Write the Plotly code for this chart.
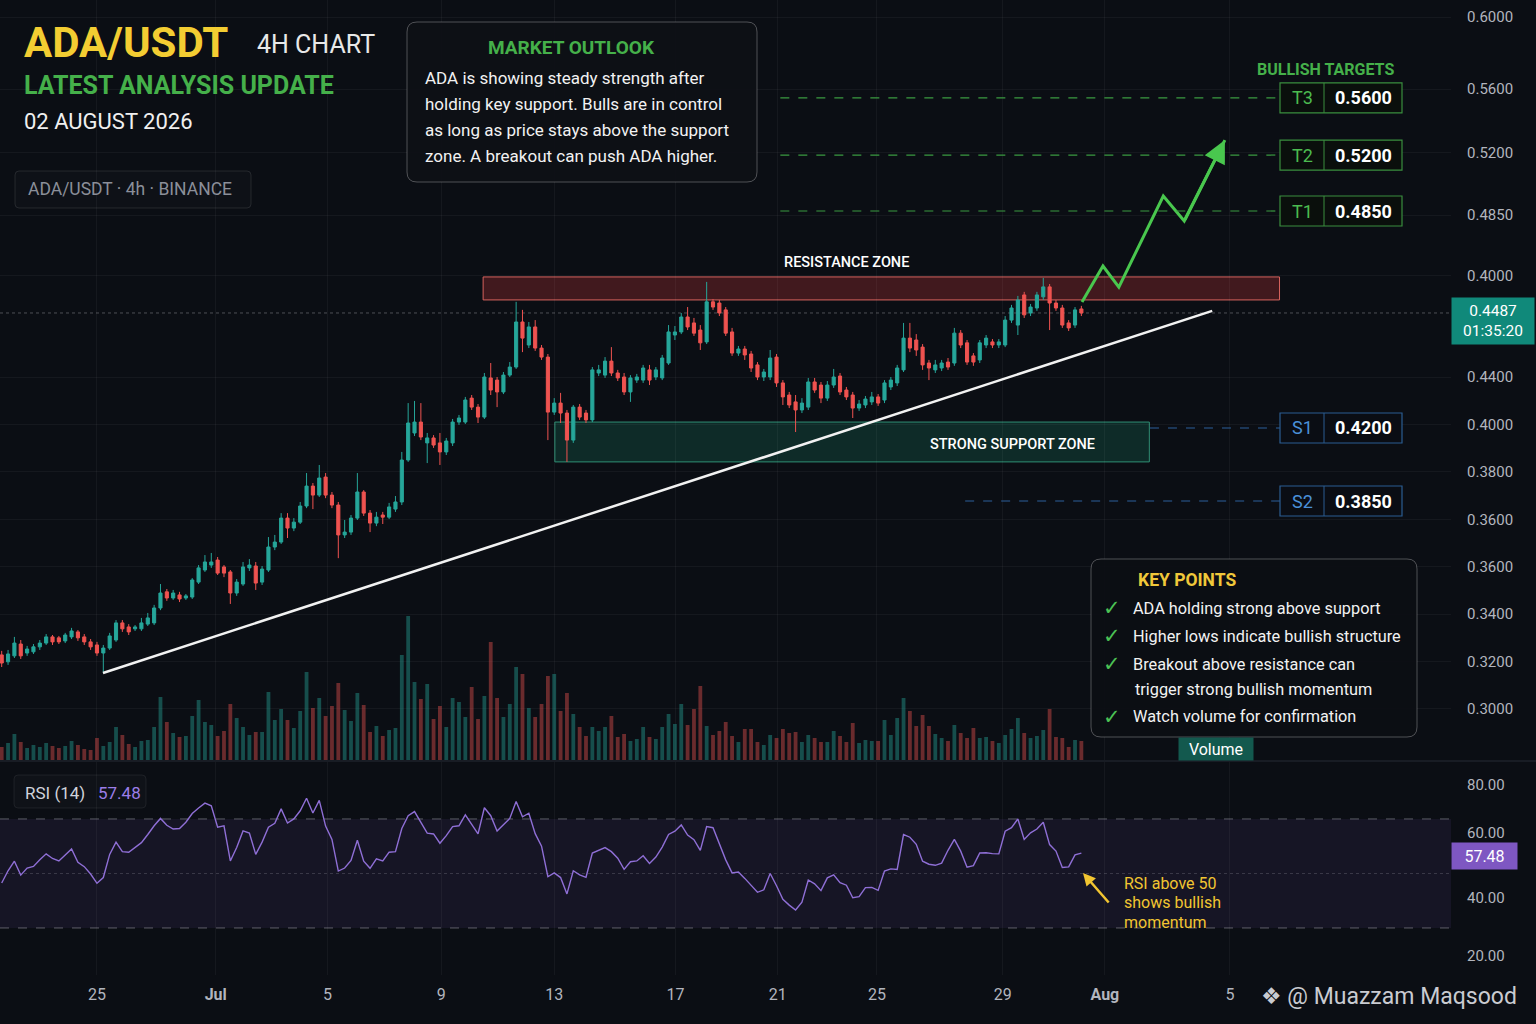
import plotly.graph_objects as go

# ---------------- DATA ----------------
opens = [0.3228, 0.3199, 0.3224, 0.3274, 0.3236, 0.3241, 0.3262, 0.3278, 0.3304, 0.3300,
         0.3287, 0.3304, 0.3325, 0.3304, 0.3283, 0.3270, 0.3236, 0.3257, 0.3291, 0.3363,
         0.3346, 0.3338, 0.3338, 0.3358, 0.3363, 0.3426, 0.3494, 0.3468, 0.3481, 0.3468,
         0.3472, 0.3535, 0.3586, 0.3607, 0.3628, 0.3599, 0.3578, 0.3489, 0.3527, 0.3595,
         0.3603, 0.3535, 0.3586, 0.3683, 0.3704, 0.3805, 0.3763, 0.3788, 0.3856, 0.3940,
         0.3902, 0.3978, 0.3902, 0.3860, 0.3734, 0.3746, 0.3805, 0.3915, 0.3826, 0.3784,
         0.3818, 0.3809, 0.3843, 0.3873, 0.4050, 0.4164, 0.4210, 0.4122, 0.4143, 0.4122,
         0.4084, 0.4122, 0.4210, 0.4210, 0.4311, 0.4273, 0.4231, 0.4396, 0.4387, 0.4337,
         0.4408, 0.4442, 0.4632, 0.4535, 0.4611, 0.4522, 0.4484, 0.4252, 0.4290, 0.4248,
         0.4134, 0.4273, 0.4248, 0.4219, 0.4417, 0.4408, 0.4467, 0.4417, 0.4400, 0.4337,
         0.4387, 0.4387, 0.4430, 0.4400, 0.4396, 0.4459, 0.4577, 0.4590, 0.4653, 0.4628,
         0.4598, 0.4548, 0.4717, 0.4712, 0.4683, 0.4590, 0.4501, 0.4518, 0.4497, 0.4451,
         0.4400, 0.4400, 0.4484, 0.4375, 0.4324, 0.4295, 0.4261, 0.4273, 0.4379, 0.4366,
         0.4311, 0.4366, 0.4404, 0.4345, 0.4324, 0.4269, 0.4282, 0.4295, 0.4316, 0.4303,
         0.4358, 0.4375, 0.4430, 0.4564, 0.4556, 0.4526, 0.4459, 0.4430, 0.4438, 0.4463,
         0.4459, 0.4585, 0.4544, 0.4489, 0.4472, 0.4535, 0.4548, 0.4535, 0.4535, 0.4640,
         0.4619, 0.4746, 0.4670, 0.4691, 0.4738, 0.4780, 0.4712, 0.4691, 0.4628, 0.4619,
         0.4687]
highs = [0.3245, 0.3249, 0.3304, 0.3291, 0.3266, 0.3274, 0.3291, 0.3316, 0.3312, 0.3308,
         0.3321, 0.3342, 0.3333, 0.3316, 0.3295, 0.3283, 0.3270, 0.3321, 0.3375, 0.3375,
         0.3358, 0.3354, 0.3384, 0.3405, 0.3439, 0.3527, 0.3506, 0.3502, 0.3494, 0.3485,
         0.3552, 0.3607, 0.3649, 0.3658, 0.3641, 0.3607, 0.3586, 0.3548, 0.3620, 0.3632,
         0.3620, 0.3603, 0.3725, 0.3734, 0.3826, 0.3826, 0.3805, 0.3873, 0.3995, 0.3953,
         0.4029, 0.3995, 0.3915, 0.3873, 0.3797, 0.3818, 0.3995, 0.3923, 0.3839, 0.3831,
         0.3831, 0.3869, 0.3898, 0.4084, 0.4290, 0.4299, 0.4290, 0.4164, 0.4155, 0.4164,
         0.4143, 0.4223, 0.4240, 0.4316, 0.4324, 0.4286, 0.4417, 0.4459, 0.4400, 0.4421,
         0.4463, 0.4717, 0.4683, 0.4632, 0.4640, 0.4535, 0.4497, 0.4311, 0.4333, 0.4261,
         0.4282, 0.4286, 0.4261, 0.4442, 0.4451, 0.4484, 0.4526, 0.4430, 0.4417, 0.4408,
         0.4413, 0.4451, 0.4451, 0.4442, 0.4493, 0.4619, 0.4615, 0.4670, 0.4695, 0.4649,
         0.4619, 0.4801, 0.4729, 0.4725, 0.4695, 0.4607, 0.4531, 0.4531, 0.4510, 0.4463,
         0.4434, 0.4514, 0.4497, 0.4387, 0.4337, 0.4324, 0.4311, 0.4396, 0.4396, 0.4379,
         0.4383, 0.4434, 0.4417, 0.4358, 0.4337, 0.4303, 0.4320, 0.4337, 0.4328, 0.4387,
         0.4400, 0.4451, 0.4628, 0.4628, 0.4581, 0.4539, 0.4472, 0.4472, 0.4472, 0.4480,
         0.4607, 0.4598, 0.4556, 0.4501, 0.4556, 0.4577, 0.4560, 0.4560, 0.4657, 0.4704,
         0.4742, 0.4759, 0.4708, 0.4759, 0.4818, 0.4792, 0.4725, 0.4704, 0.4640, 0.4695,
         0.4700]
lows = [0.3177, 0.3186, 0.3215, 0.3211, 0.3224, 0.3232, 0.3249, 0.3270, 0.3270, 0.3274,
        0.3278, 0.3295, 0.3287, 0.3270, 0.3249, 0.3224, 0.3152, 0.3249, 0.3283, 0.3325,
        0.3312, 0.3329, 0.3329, 0.3350, 0.3354, 0.3417, 0.3456, 0.3460, 0.3451, 0.3460,
        0.3464, 0.3527, 0.3578, 0.3595, 0.3565, 0.3556, 0.3443, 0.3477, 0.3519, 0.3582,
        0.3502, 0.3523, 0.3578, 0.3670, 0.3696, 0.3721, 0.3750, 0.3780, 0.3847, 0.3843,
        0.3894, 0.3889, 0.3847, 0.3636, 0.3721, 0.3734, 0.3797, 0.3814, 0.3746, 0.3771,
        0.3780, 0.3801, 0.3831, 0.3860, 0.4042, 0.4151, 0.4134, 0.4037, 0.4101, 0.4029,
        0.4071, 0.4109, 0.4198, 0.4202, 0.4261, 0.4206, 0.4223, 0.4324, 0.4273, 0.4328,
        0.4400, 0.4434, 0.4505, 0.4522, 0.4510, 0.4472, 0.4134, 0.4240, 0.4206, 0.4042,
        0.4122, 0.4219, 0.4206, 0.4210, 0.4404, 0.4396, 0.4404, 0.4383, 0.4324, 0.4295,
        0.4375, 0.4375, 0.4366, 0.4387, 0.4387, 0.4451, 0.4556, 0.4581, 0.4598, 0.4573,
        0.4514, 0.4539, 0.4683, 0.4657, 0.4573, 0.4489, 0.4489, 0.4472, 0.4421, 0.4387,
        0.4383, 0.4387, 0.4358, 0.4282, 0.4269, 0.4168, 0.4248, 0.4261, 0.4333, 0.4290,
        0.4299, 0.4354, 0.4324, 0.4303, 0.4227, 0.4257, 0.4269, 0.4282, 0.4278, 0.4290,
        0.4345, 0.4362, 0.4421, 0.4505, 0.4489, 0.4430, 0.4387, 0.4417, 0.4425, 0.4430,
        0.4447, 0.4522, 0.4451, 0.4447, 0.4459, 0.4522, 0.4522, 0.4522, 0.4526, 0.4628,
        0.4577, 0.4649, 0.4657, 0.4679, 0.4725, 0.4598, 0.4679, 0.4607, 0.4594, 0.4607,
        0.4657]
closes = [0.3194, 0.3232, 0.3278, 0.3224, 0.3253, 0.3262, 0.3278, 0.3304, 0.3283, 0.3283,
          0.3312, 0.3329, 0.3300, 0.3283, 0.3262, 0.3236, 0.3257, 0.3308, 0.3363, 0.3338,
          0.3325, 0.3346, 0.3363, 0.3384, 0.3426, 0.3489, 0.3468, 0.3489, 0.3464, 0.3477,
          0.3544, 0.3595, 0.3620, 0.3620, 0.3573, 0.3573, 0.3489, 0.3535, 0.3599, 0.3607,
          0.3531, 0.3590, 0.3683, 0.3704, 0.3805, 0.3763, 0.3788, 0.3856, 0.3940, 0.3902,
          0.3974, 0.3902, 0.3860, 0.3734, 0.3746, 0.3805, 0.3915, 0.3826, 0.3784, 0.3809,
          0.3809, 0.3852, 0.3873, 0.4050, 0.4206, 0.4210, 0.4147, 0.4143, 0.4113, 0.4084,
          0.4130, 0.4210, 0.4227, 0.4303, 0.4273, 0.4231, 0.4400, 0.4345, 0.4337, 0.4408,
          0.4442, 0.4632, 0.4564, 0.4611, 0.4522, 0.4484, 0.4252, 0.4290, 0.4248, 0.4134,
          0.4273, 0.4231, 0.4219, 0.4430, 0.4430, 0.4467, 0.4417, 0.4396, 0.4337, 0.4396,
          0.4400, 0.4438, 0.4387, 0.4430, 0.4480, 0.4590, 0.4590, 0.4653, 0.4611, 0.4585,
          0.4544, 0.4717, 0.4695, 0.4670, 0.4585, 0.4501, 0.4518, 0.4493, 0.4438, 0.4400,
          0.4421, 0.4480, 0.4375, 0.4316, 0.4282, 0.4261, 0.4290, 0.4379, 0.4345, 0.4311,
          0.4366, 0.4400, 0.4337, 0.4316, 0.4269, 0.4286, 0.4307, 0.4316, 0.4290, 0.4375,
          0.4387, 0.4438, 0.4564, 0.4522, 0.4514, 0.4451, 0.4438, 0.4451, 0.4459, 0.4442,
          0.4585, 0.4535, 0.4463, 0.4463, 0.4544, 0.4564, 0.4535, 0.4548, 0.4640, 0.4691,
          0.4725, 0.4662, 0.4695, 0.4746, 0.4780, 0.4712, 0.4691, 0.4619, 0.4607, 0.4683,
          0.4670]
volumes = [1.3, 1.7, 2.6, 1.8, 1.2, 1.5, 1.3, 1.7, 1.4, 1.2,
           1.4, 1.9, 1.5, 1.1, 1.0, 2.2, 1.4, 1.8, 3.3, 2.5,
           1.6, 1.3, 1.9, 2.0, 3.3, 6.3, 3.8, 2.7, 2.3, 2.4,
           4.4, 6.0, 3.8, 3.5, 2.4, 2.9, 5.6, 4.2, 3.3, 2.5,
           2.8, 2.8, 6.8, 4.0, 5.1, 4.0, 3.2, 4.9, 8.8, 5.2,
           6.2, 4.4, 5.4, 7.7, 5.0, 3.9, 6.7, 5.5, 2.8, 3.4,
           2.4, 3.0, 3.2, 10.5, 14.4, 7.8, 6.1,
           7.6, 4.1, 5.4, 3.3, 6.2, 5.8, 4.3, 7.3, 4.1, 6.4,
           11.8, 6.2, 4.3, 5.6, 9.3, 8.6, 5.2, 4.3, 5.6, 8.4,
           8.6, 4.9, 6.7, 4.6, 3.3, 2.4, 3.3, 2.9, 3.3, 4.4,
           2.3, 2.6, 1.9, 2.1, 3.3, 2.3, 2.1, 3.3, 4.6, 3.6,
           5.6, 3.5, 5.1, 7.4, 3.4, 2.5, 2.9, 3.8, 2.4, 1.8,
           3.1,
           3.1, 1.8, 1.5, 2.5, 2.2, 3.1, 2.7, 2.8, 1.8, 2.5,
           2.2, 1.8, 1.8, 2.9, 2.4, 1.8, 3.7, 1.7, 2.0, 1.9,
           1.9, 4.0, 2.5, 4.2, 6.2, 4.9, 3.4, 4.5, 3.4, 2.6,
           2.2, 1.9, 3.5, 2.7, 2.2, 3.2, 2.2, 2.3, 1.9, 1.7,
           2.5, 3.1, 4.2, 2.7, 2.2, 2.4, 3.0, 5.1, 2.3, 2.2,
           1.3, 2.0, 1.9]
rsi_values = [46.5, 51, 54.5, 49.4, 52, 52.6, 55, 57.2, 55.5, 54.6,
              56.8, 59.0, 54.1, 52.5, 49.8, 46.4, 48.5, 57, 61.5, 58,
              57.8, 59.5, 61.3, 64.3, 67.5, 70.2, 67.7, 66.3, 66.5, 68.8,
              72, 74, 75.8, 74.8, 67, 67.5, 54.6, 59.5, 65.6, 64.8,
              57, 61.5, 67, 68.4, 73.7, 68.5, 70, 73, 77.6, 72.2,
              76.8, 67.4, 62.5, 50.9, 52, 54.8, 62.2, 54.5, 51.9, 55.4,
              54.6, 57.8, 58, 66.5, 71.2, 72.7, 68.6, 64.8, 64.5, 61.1,
              63.9, 67.2, 67.5, 71.5, 68, 64.5, 74.1, 71.2, 65.6, 68,
              70.2, 76.4, 70.8, 72.1, 64.6, 60, 48.8, 50.2,
              48.5, 42.5, 51, 49.5, 48.6, 57.5, 58.5, 59.5, 58, 55.6,
              51.5, 54.3, 54.6, 56.5, 53.7, 56, 59.7, 64.3, 65.5, 67.8,
              64.1, 62.4, 58.5, 67.2, 66.8, 61, 55, 50.2, 50.5, 48.2,
              45.5, 43.1, 44, 50, 45.5, 40.5, 38.4, 36.6, 39.5, 47.6,
              46.2, 43.7, 48.4, 49.5, 46.6, 45.7, 41.1, 41.5, 44.8, 44.9,
              43.8, 50.9, 51.7, 51.5, 64.3, 63.3, 60.7, 54.5, 53.4, 53,
              53.8, 58.5, 62.5, 58.2, 52.3, 52.9, 57.5, 57.6, 57.3, 57.2,
              65.5, 66.8, 70, 62.5, 64.9, 66.3, 68.8, 60.6, 58.2, 52.2,
              52.4, 56.8, 57.48]

bar_index = list(range(len(closes)))

date_tick_pos = [15.0, 33.7, 51.3, 69.2, 87.0, 106.1, 122.2, 137.8, 157.6, 173.7, 193.4]
date_tick_text = ["25", "<b>Jul</b>", "5", "9", "13", "17", "21", "25", "29", "<b>Aug</b>", "5"]

price_tick_vals = [0.5918, 0.5614, 0.5345, 0.5083, 0.4826, 0.44, 0.42, 0.40, 0.38, 0.36, 0.34, 0.32, 0.30]
price_tick_text = ["0.6000", "0.5600", "0.5200", "0.4850", "0.4000", "0.4400", "0.4000",
                   "0.3800", "0.3600", "0.3600", "0.3400", "0.3200", "0.3000"]
rsi_tick_vals = [82.4, 64.9, 41.0, 19.7]
rsi_tick_text = ["80.00", "60.00", "40.00", "20.00"]

# analysis drawings (bar index, price)
trend_x = [15.95, 190.6]
trend_y = [0.3152, 0.4679]
proj_x = [170.1, 173.4, 175.9, 182.9, 186.2, 192.6]
proj_y = [0.4716, 0.4868, 0.4779, 0.5163, 0.5058, 0.5399]
resistance_x = [75.8, 201.2]
resistance_y = [0.4725, 0.4822]
support_x = [87.1, 180.7]
support_y = [0.4042, 0.4210]
target_names = ["T3", "T2", "T1"]
target_labels = ["0.5600", "0.5200", "0.4850"]
target_levels = [0.5577, 0.5336, 0.5100]
target_line_start = 122.6
support_names = ["S1", "S2"]
support_labels = ["0.4200", "0.3850"]
support_levels = [0.4185, 0.3877]
support_line_start = [180.8, 151.7]
level_line_end = 201.3
current_price_label = "0.4487"
countdown_label = "01:35:20"

outlook_lines = ["ADA is showing steady strength after",
                 "holding key support. Bulls are in control",
                 "as long as price stays above the support",
                 "zone. A breakout can push ADA higher."]
key_points = [("✓", "ADA holding strong above support"),
              ("✓", "Higher lows indicate bullish structure"),
              ("✓", "Breakout above resistance can"),
              ("", "trigger strong bullish momentum"),
              ("✓", "Watch volume for confirmation")]
rsi_note = ["RSI above 50", "shows bullish", "momentum"]

# ---------------- STYLE ----------------
FONT = "Roboto, 'DejaVu Sans', sans-serif"
BG = "#0b0e14"
GRID = "rgba(255,255,255,0.045)"
UP = "#26a69a"
DN = "#ef5350"
VOL_UP = "rgba(38,166,154,0.42)"
VOL_DN = "rgba(239,83,80,0.42)"
YELLOW = "#f3cd32"
GREEN_TXT = "#45b04a"
ARROW_GREEN = "#49c74e"
PURPLE = "#8f6fd6"
AXIS_TXT = "#b2b5be"

W, H = 1536, 1024
PW, PH = 1451, 975          # plot area size (px)
PRICE_BOTTOM = 760          # px where price pane ends
RSI_TOP = 762


def px_x(x):
    return x / PW


def px_y(y):
    return (PH - y) / PH


fig = go.Figure()

vol_colors = [VOL_UP if c >= o else VOL_DN for o, c in zip(opens, closes)]
fig.add_trace(go.Bar(x=bar_index, y=volumes, marker=dict(color=vol_colors, line=dict(width=0)),
                     width=0.6, xaxis="x2", yaxis="y3", hoverinfo="skip"))
fig.add_trace(go.Candlestick(x=bar_index, open=opens, high=highs, low=lows, close=closes,
                             xaxis="x2", yaxis="y", whiskerwidth=0,
                             increasing=dict(line=dict(color=UP, width=1), fillcolor=UP),
                             decreasing=dict(line=dict(color=DN, width=1), fillcolor=DN)))
fig.add_trace(go.Scatter(x=trend_x, y=trend_y, mode="lines", line=dict(color="#f2f2f2", width=2.5),
                         xaxis="x2", yaxis="y", hoverinfo="skip"))
fig.add_trace(go.Scatter(x=proj_x, y=proj_y, mode="lines", line=dict(color=ARROW_GREEN, width=3),
                         xaxis="x2", yaxis="y", hoverinfo="skip"))
fig.add_trace(go.Scatter(x=bar_index, y=rsi_values, mode="lines", line=dict(color=PURPLE, width=1.4),
                         xaxis="x", yaxis="y2", hoverinfo="skip"))

shapes = []
ann = []


def rrect(x0, y0, x1, y1, r, fill, line, width=1):
    X, Y = px_x, px_y
    path = (f"M {X(x0 + r)},{Y(y0)} L {X(x1 - r)},{Y(y0)} Q {X(x1)},{Y(y0)} {X(x1)},{Y(y0 + r)} "
            f"L {X(x1)},{Y(y1 - r)} Q {X(x1)},{Y(y1)} {X(x1 - r)},{Y(y1)} "
            f"L {X(x0 + r)},{Y(y1)} Q {X(x0)},{Y(y1)} {X(x0)},{Y(y1 - r)} "
            f"L {X(x0)},{Y(y0 + r)} Q {X(x0)},{Y(y0)} {X(x0 + r)},{Y(y0)} Z")
    shapes.append(dict(type="path", xref="paper", yref="paper", path=path, fillcolor=fill,
                       line=dict(color=line, width=width), layer="above"))


def text(x, y, t, size, color, anchor="left", weight="normal"):
    ann.append(dict(x=px_x(x), y=px_y(y), xref="paper", yref="paper", text=t, showarrow=False,
                    xanchor=anchor, yanchor="middle",
                    font=dict(family=FONT, size=size, color=color, weight=weight)))


# zones
shapes.append(dict(type="rect", xref="x2", yref="y", x0=resistance_x[0], x1=resistance_x[1],
                   y0=resistance_y[0], y1=resistance_y[1], fillcolor="rgba(140,40,45,0.42)",
                   line=dict(color="#d8635e", width=1), layer="below"))
shapes.append(dict(type="rect", xref="x2", yref="y", x0=support_x[0], x1=support_x[1],
                   y0=support_y[0], y1=support_y[1], fillcolor="rgba(25,120,95,0.28)",
                   line=dict(color="#2f8f74", width=1), layer="below"))
# current price dotted line
shapes.append(dict(type="line", xref="paper", yref="y", x0=0, x1=1, y0=closes[-1], y1=closes[-1],
                   line=dict(color="rgba(200,200,210,0.35)", width=1, dash="dot"), layer="below"))
# RSI band & levels
shapes.append(dict(type="rect", xref="paper", yref="y2", x0=0, x1=1, y0=30, y1=70,
                   fillcolor="rgba(126,87,194,0.10)", line=dict(width=0), layer="below"))
for lvl, dash, col in [(70, "dash", "rgba(170,170,180,0.5)"), (30, "dash", "rgba(170,170,180,0.5)"),
                       (50, "dot", "rgba(170,170,180,0.25)")]:
    shapes.append(dict(type="line", xref="paper", yref="y2", x0=0, x1=1, y0=lvl, y1=lvl,
                       line=dict(color=col, width=1, dash=dash), layer="below"))
# pane separator
shapes.append(dict(type="line", xref="paper", yref="paper", x0=0, x1=W / PW, y0=px_y(761), y1=px_y(761),
                   line=dict(color="#262a35", width=1)))

# target & support levels
for name, lab, lvl in zip(target_names, target_labels, target_levels):
    shapes.append(dict(type="line", xref="x2", yref="y", x0=target_line_start, x1=level_line_end,
                       y0=lvl, y1=lvl, line=dict(color="#3b9a40", width=1.2, dash="dash")))
    shapes.append(dict(type="rect", xref="paper", yref="y", x0=px_x(1280), x1=px_x(1402),
                       ysizemode="pixel", yanchor=lvl, y0=-15, y1=15,
                       fillcolor="#0a0f0c", line=dict(color="#3a8e3e", width=1.2)))
    shapes.append(dict(type="line", xref="paper", yref="y", x0=px_x(1324), x1=px_x(1324),
                       ysizemode="pixel", yanchor=lvl, y0=-15, y1=15,
                       line=dict(color="#3a8e3e", width=1)))
    ann.append(dict(x=px_x(1302), y=lvl, xref="paper", yref="y", text=name, showarrow=False,
                    xanchor="center", yanchor="middle",
                    font=dict(family=FONT, size=18, color="#4cbb50")))
    ann.append(dict(x=px_x(1363), y=lvl, xref="paper", yref="y", text=lab, showarrow=False,
                    xanchor="center", yanchor="middle",
                    font=dict(family=FONT, size=18, color="white", weight="bold")))
for name, lab, lvl, x0 in zip(support_names, support_labels, support_levels, support_line_start):
    shapes.append(dict(type="line", xref="x2", yref="y", x0=x0, x1=level_line_end,
                       y0=lvl, y1=lvl, line=dict(color="#2c5f99", width=1.2, dash="dash")))
    shapes.append(dict(type="rect", xref="paper", yref="y", x0=px_x(1280), x1=px_x(1402),
                       ysizemode="pixel", yanchor=lvl, y0=-15, y1=15,
                       fillcolor="#0a0d14", line=dict(color="#2b5d91", width=1.2)))
    shapes.append(dict(type="line", xref="paper", yref="y", x0=px_x(1324), x1=px_x(1324),
                       ysizemode="pixel", yanchor=lvl, y0=-15, y1=15,
                       line=dict(color="#2b5d91", width=1)))
    ann.append(dict(x=px_x(1302), y=lvl, xref="paper", yref="y", text=name, showarrow=False,
                    xanchor="center", yanchor="middle",
                    font=dict(family=FONT, size=18, color="#4a90d9")))
    ann.append(dict(x=px_x(1363), y=lvl, xref="paper", yref="y", text=lab, showarrow=False,
                    xanchor="center", yanchor="middle",
                    font=dict(family=FONT, size=18, color="white", weight="bold")))

# boxes
rrect(15, 171, 251, 208, 4, "rgba(255,255,255,0.015)", "rgba(255,255,255,0.10)")
rrect(407, 22, 757, 182, 10, "rgba(14,16,22,0.92)", "rgba(255,255,255,0.28)")
rrect(1091, 559, 1417, 737, 10, "rgba(12,14,20,0.92)", "rgba(255,255,255,0.28)")
rrect(14, 775, 146, 808, 4, "rgba(255,255,255,0.02)", "rgba(255,255,255,0.07)")

# header
text(22, 42, "<b>ADA/USDT</b>", 42, YELLOW)
text(255, 44, "4H CHART", 25, "#e8e8e8")
text(22, 85, "<b>LATEST ANALYSIS UPDATE</b>", 25, GREEN_TXT)
text(22, 122, "02 AUGUST 2026", 22, "#f0f0f0")
text(26, 189, "ADA/USDT · 4h · BINANCE", 17.5, "#8b8f99")

# market outlook
text(571, 47, "<b>MARKET OUTLOOK</b>", 19, GREEN_TXT, anchor="center")
for i, line in enumerate(outlook_lines):
    text(423, 78 + 26 * i, line, 17, "#f2f2f2")

# key points
text(1136, 580, "<b>KEY POINTS</b>", 17.5, "#f0c83a")
for i, (mark, line) in enumerate(key_points):
    yy = [608, 636, 664, 690, 717][i]
    if mark:
        text(1112, yy, f"<b>{mark}</b>", 21, "#4cc255", anchor="center", weight="bold")
    text(1131 if mark else 1133, yy, line, 16.3, "#f2f2f2")

# zone labels
text(847, 263, "RESISTANCE ZONE", 14.5, "white", anchor="center", weight=500)
text(1012, 444, "STRONG SUPPORT ZONE", 14.5, "white", anchor="center", weight=500)
text(1325, 69, "<b>BULLISH TARGETS</b>", 16, GREEN_TXT, anchor="center")

# projection arrow head
ann.append(dict(x=proj_x[-1], y=proj_y[-1], xref="x2", yref="y", ax=proj_x[-2], ay=proj_y[-2],
                axref="x2", ayref="y", text="", showarrow=True, arrowhead=2, arrowsize=1.5,
                arrowwidth=3, arrowcolor=ARROW_GREEN))

# volume tag
ann.append(dict(x=px_x(1216), y=px_y(749), xref="paper", yref="paper", text="Volume", showarrow=False,
                xanchor="center", yanchor="middle",
                bgcolor="#13594e", width=70, height=18, borderpad=2,
                font=dict(family=FONT, size=16, color="white")))

# RSI label
text(23, 793, "RSI (14)", 17, "#d1d4dc")
text(96, 793, f"{rsi_values[-1]:.2f}", 17, "#9c7ee8")
for i, line in enumerate(rsi_note):
    text(1122, 883 + 19.5 * i, line, 16, "#f2c531")
ann.append(dict(x=px_x(1083), y=px_y(873), xref="paper", yref="paper", ax=27, ay=31, text="",
                showarrow=True, arrowhead=2, arrowsize=1, arrowwidth=2.5, arrowcolor="#f2c531"))

# right axis value tags
ann.append(dict(x=1, y=closes[-1], xref="paper", yref="y", xanchor="left", yanchor="middle", yshift=-8,
                text=f"{current_price_label}<br>{countdown_label}", showarrow=False, align="center",
                bgcolor="#10897a", width=76, height=40, borderpad=3,
                font=dict(family=FONT, size=15.5, color="white")))
ann.append(dict(x=1, y=rsi_values[-1], xref="paper", yref="y2", xanchor="left", yanchor="middle", yshift=-3,
                text=f"{rsi_values[-1]:.2f}", showarrow=False, align="center",
                bgcolor="#7e57c2", width=61, height=22, borderpad=2,
                font=dict(family=FONT, size=16, color="white")))

# watermark
text(1259, 996, "❖ @ Muazzam Maqsood", 23, "#c9cbd1")

x_range = [-0.268, 228.2]
fig.update_layout(
    width=W, height=H, autosize=False,
    margin=dict(l=0, r=W - PW, t=0, b=H - PH, pad=0),
    paper_bgcolor=BG, plot_bgcolor=BG, showlegend=False,
    font=dict(family=FONT, color=AXIS_TXT),
    xaxis=dict(domain=[0, 1], anchor="y2", range=x_range, tickvals=date_tick_pos, ticktext=date_tick_text,
               tickfont=dict(size=16, color=AXIS_TXT), showgrid=True, gridcolor=GRID, zeroline=False,
               showline=False, ticks="outside", ticklen=5, tickcolor="rgba(0,0,0,0)",
               rangeslider=dict(visible=False), fixedrange=True),
    xaxis2=dict(domain=[0, 1], anchor="y", matches="x", range=x_range, tickvals=date_tick_pos,
                showticklabels=False, showgrid=True, gridcolor=GRID, zeroline=False,
                rangeslider=dict(visible=False)),
    yaxis=dict(domain=[(PH - PRICE_BOTTOM) / PH, 1], anchor="x2", side="right",
               range=[0.27849, 0.59898], tickvals=price_tick_vals, ticktext=price_tick_text,
               tickfont=dict(size=15, color=AXIS_TXT), showgrid=True, gridcolor=GRID, zeroline=False,
               ticks="outside", ticklen=12, tickcolor="rgba(0,0,0,0)"),
    yaxis3=dict(overlaying="y", anchor="x2", range=[0, 76], visible=False, showgrid=False),
    yaxis2=dict(domain=[0, (PH - RSI_TOP) / PH], anchor="x", side="right", range=[12.75, 90.9],
                tickvals=rsi_tick_vals, ticktext=rsi_tick_text, tickfont=dict(size=15, color=AXIS_TXT),
                showgrid=False, zeroline=False, ticks="outside", ticklen=12, tickcolor="rgba(0,0,0,0)"),
    shapes=shapes, annotations=ann,
)

fig.write_html("out.html", include_plotlyjs=True, config={"displayModeBar": False},
               post_script="document.body.style.margin='0';document.body.style.overflow='hidden';"
                           "document.body.style.background='#0b0e14';")
